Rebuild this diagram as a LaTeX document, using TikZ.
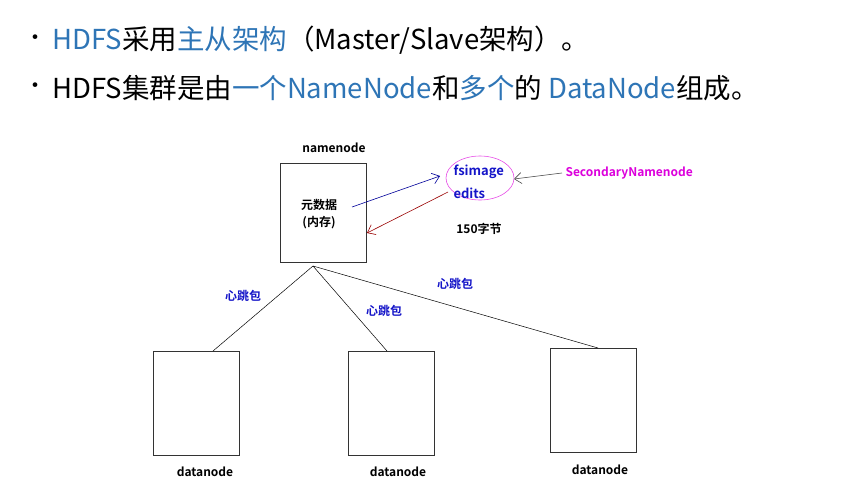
\documentclass[tikz,border=0pt]{standalone}
\usepackage{fontspec}
\setmainfont{Noto Sans CJK SC}[BoldFont={Noto Sans CJK SC Bold}]
\usetikzlibrary{arrows.meta}
\definecolor{hblue}{RGB}{46,117,182}
\definecolor{lblue}{RGB}{20,20,200}
\definecolor{mag}{RGB}{220,0,220}
\tikzset{box/.style={draw=black!80,line width=0.6pt,minimum width=86pt,minimum height=104pt,inner sep=0},
lbl/.style={font=\fontsize{12}{14}\selectfont\bfseries},
hb/.style={lbl,text=lblue},
bul/.style={anchor=west,font=\fontsize{27.5}{30}\selectfont,inner sep=0},
arr/.style={-{Straight Barb[length=7pt,width=11pt]},line width=0.6pt}}
\begin{document}
\begin{tikzpicture}[x=1pt,y=-1pt]
\useasboundingbox (0,0) rectangle (844,491);
\node[bul,font=\fontsize{22}{24}\selectfont] (d1) at (24,40) {•};
\node[bul] (t1) at (52,40) {\textcolor{hblue}{HDFS}采用\textcolor{hblue}{主从架构}（Master/Slave架构）。};
\node[bul,font=\fontsize{22}{24}\selectfont] (d2) at (24,88) {•};
\node[bul] (t2) at (52,88) {HDFS集群是由\textcolor{hblue}{一个NameNode}和\textcolor{hblue}{多个}的 \textcolor{hblue}{DataNode}组成。};
\node[box,minimum height=99pt] (nn) at (323,212.5) {};
\node[lbl] (nnl) at (334,148) {namenode};
\node[lbl,align=center,font=\fontsize{12}{17}\selectfont\bfseries] (meta) at (319,214) {元数据\\(内存)};
\draw[mag!70,line width=0.6pt] (480,178) ellipse (34 and 22);
\node[hb,font=\fontsize{13}{14}\selectfont\bfseries,anchor=west] (fs) at (450,172) {fsimage};
\node[hb,font=\fontsize{13}{14}\selectfont\bfseries,anchor=west] (ed) at (450,193) {edits};
\node[lbl,text=mag,anchor=west] (sn) at (562,173) {SecondaryNamenode};
\node[lbl] (b150) at (479,229) {150字节};
\coordinate (e1) at (514,179);
\draw[arr,black!70] (sn.west) -- (e1);
\draw[arr,blue!60!black] (352,207) -- (440,176);
\draw[arr,red!60!black] (448,192) -- (367,233);
\node[box] (d1b) at (196,403) {};
\node[box] (d2b) at (391,403) {};
\node[box] (d3b) at (593.5,400.5) {};
\node[lbl] (l1) at (205,472) {datanode};
\node[lbl] (l2) at (398,472) {datanode};
\node[lbl] (l3) at (600,470) {datanode};
\coordinate (nb) at (313,266);
\draw[line width=0.5pt] (nb) -- (213,351);
\draw[line width=0.5pt] (nb) -- (387,351);
\draw[line width=0.5pt] (nb) -- (598,348);
\node[hb] (h1) at (243,296) {心跳包};
\node[hb] (h2) at (384,311) {心跳包};
\node[hb] (h3) at (455,284) {心跳包};
\end{tikzpicture}
\end{document}
